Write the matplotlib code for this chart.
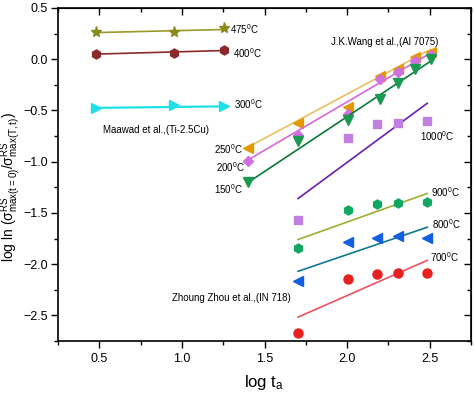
import matplotlib
matplotlib.use("Agg")
import matplotlib.pyplot as plt
from matplotlib.ticker import MultipleLocator

plt.rcParams['font.family'] = ['Liberation Sans', 'DejaVu Sans']
plt.rcParams['mathtext.default'] = 'regular'

# ---- data ----
x_ti = [0.477, 0.954, 1.255]
y_475 = [0.262, 0.268, 0.30]
y_400 = [0.053, 0.060, 0.090]
y_300 = [-0.48, -0.45, -0.46]
fit_475 = [0.26, 0.29]
fit_400 = [0.05, 0.085]
fit_300 = [-0.475, -0.46]

x_al = [1.403, 1.703, 2.006, 2.20, 2.306, 2.408, 2.505]
y_250 = [-0.866, -0.627, -0.465, -0.165, -0.096, 0.024, 0.073]
y_200 = [-0.993, -0.741, -0.530, -0.197, -0.123, -0.015, 0.040]
y_150 = [-1.198, -0.800, -0.595, -0.390, -0.230, -0.100, -0.001]
fit_250 = [-0.856, 0.096]
fit_200 = [-0.98, 0.06]
fit_150 = [-1.20, -0.02]

x_in = [1.703, 2.006, 2.18, 2.306, 2.485]
y_1000 = [-1.572, -0.764, -0.634, -0.621, -0.605]
y_900 = [-1.84, -1.475, -1.416, -1.403, -1.396]
y_800 = [-2.166, -1.787, -1.741, -1.729, -1.741]
y_700 = [-2.67, -2.149, -2.10, -2.084, -2.084]
fit_x_in = [1.703, 2.485]
fit_1000 = [-1.36, -0.43]
fit_900 = [-1.76, -1.31]
fit_800 = [-2.07, -1.64]
fit_700 = [-2.517, -1.963]

fig = plt.figure(figsize=(4.74, 3.95), dpi=100)
ax = fig.add_axes([58/474, 1-341/395, (471-58)/474, (341-8)/395])

ms = 6.5
# Ti-2.5Cu
ax.plot([x_ti[0], x_ti[-1]], fit_475, color='#9a9a2a', lw=1.2)
ax.plot(x_ti, y_475, ls='none', marker='*', color='#8a8a1a', ms=8)
ax.plot([x_ti[0], x_ti[-1]], fit_400, color='#8b2b2b', lw=1.2)
ax.plot(x_ti, y_400, ls='none', marker='h', color='#8b2a2a', ms=ms)
ax.plot([x_ti[0], x_ti[-1]], fit_300, color='#1fe0e8', lw=1.6)
ax.plot(x_ti, y_300, ls='none', marker='>', color='#1fe0e8', ms=ms)

# Al 7075
ax.plot([x_al[0], x_al[-1]], fit_250, color='#e8c060', lw=1.2)
ax.plot(x_al, y_250, ls='none', marker='<', color='#e39a00', ms=ms)
ax.plot([x_al[0], x_al[-1]], fit_200, color='#d868d8', lw=1.2)
ax.plot(x_al, y_200, ls='none', marker='D', color='#d070e0', ms=5.5)
ax.plot([x_al[0], x_al[-1]], fit_150, color='#0a7a3a', lw=1.2)
ax.plot(x_al, y_150, ls='none', marker='v', color='#1a9a50', ms=ms)

# IN 718
ax.plot(fit_x_in, fit_1000, color='#6a1fb0', lw=1.2)
ax.plot(x_in, y_1000, ls='none', marker='s', color='#c080e0', ms=5.5)
ax.plot(fit_x_in, fit_900, color='#9ab030', lw=1.2)
ax.plot(x_in, y_900, ls='none', marker='h', color='#10a860', ms=ms)
ax.plot(fit_x_in, fit_800, color='#107890', lw=1.2)
ax.plot(x_in, y_800, ls='none', marker='<', color='#1060e0', ms=ms)
ax.plot(fit_x_in, fit_700, color='#f05060', lw=1.2)
ax.plot(x_in, y_700, ls='none', marker='o', color='#e82020', ms=ms)

fs = 7.0
def lab(x, y, t, ha='left'):
    ax.text(x, y, t, fontsize=fs, ha=ha, va='center')

lab(1.292, 0.295, '475$^{0}$C')
lab(1.309, 0.057, '400$^{0}$C')
lab(1.313, -0.44, '300$^{0}$C')
lab(0.525, -0.693, 'Maawad et al.,(Ti-2.5Cu)')
lab(1.195, -0.88, '250$^{0}$C')
lab(1.205, -1.05, '200$^{0}$C')
lab(1.197, -1.27, '150$^{0}$C')
lab(1.905, 0.165, 'J.K.Wang et al.,(Al 7075)')
lab(2.44, -0.75, '1000$^{0}$C')
lab(2.505, -1.296, '900$^{0}$C')
lab(2.515, -1.61, '800$^{0}$C')
lab(2.50, -1.93, '700$^{0}$C')
lab(1.656, -2.33, 'Zhoung Zhou et al.,(IN 718)', ha='right')

ax.set_xlim(0.25, 2.75)
ax.set_ylim(-2.75, 0.5)
for a in (ax.xaxis, ax.yaxis):
    a.set_major_locator(MultipleLocator(0.5))
    a.set_minor_locator(MultipleLocator(0.25))
ax.tick_params(axis='both', which='both', labelsize=9, width=1, direction='out')
ax.tick_params(axis='both', which='major', length=5)
ax.tick_params(axis='both', which='minor', length=3)
ax.tick_params(axis='y', which='major', pad=2.5)
for sp in ax.spines.values():
    sp.set_linewidth(1.2)

# mirrored ticks on top and right pointing inward, no labels
top = ax.secondary_xaxis('top')
top.xaxis.set_major_locator(MultipleLocator(0.5))
top.xaxis.set_minor_locator(MultipleLocator(0.25))
top.tick_params(which='both', direction='in', labeltop=False, width=1)
top.tick_params(which='major', length=5)
top.tick_params(which='minor', length=3)
right = ax.secondary_yaxis('right')
right.yaxis.set_major_locator(MultipleLocator(0.5))
right.yaxis.set_minor_locator(MultipleLocator(0.25))
right.tick_params(which='both', direction='in', labelright=False, width=1)
right.tick_params(which='major', length=5)
right.tick_params(which='minor', length=3)

ax.set_xlabel('log t$_a$', fontsize=12, labelpad=6)
fig.text(11/474, 1-187/395,
         'log ln ($\\sigma_{max(t=0)}^{RS}$/$\\sigma_{max(T,t)}^{RS}$)',
         fontsize=10, rotation=90, ha='center', va='center')

fig.savefig('out.png', dpi=100)
